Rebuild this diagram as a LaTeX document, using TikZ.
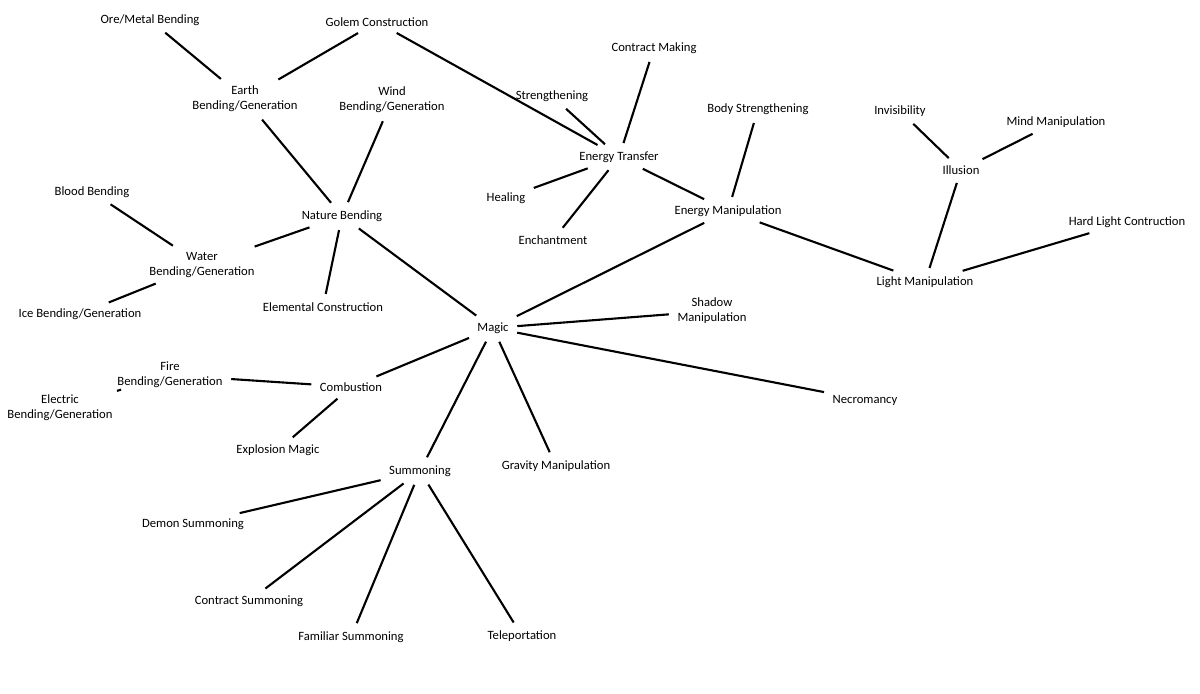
\documentclass[tikz,border=0pt]{standalone}
\usepackage{fontspec}
\setmainfont{Carlito}
\usetikzlibrary{positioning}
\tikzset{
  topic/.style={align=center, inner sep=3pt, font=\fontsize{9}{10.5}\selectfont},
  link/.style={line width=1.5pt, shorten >=3pt, shorten <=3pt}
}
\begin{document}
\begin{tikzpicture}[x=0.025cm, y=-0.025cm]
  \useasboundingbox (0,0) rectangle (1200,694);
  % nodes
  \node[topic] (ore) at (150,20) {Ore/Metal Bending};
  \node[topic] (golem) at (377,22) {Golem Construction};
  \node[topic] (cmake) at (654,48) {Contract Making};
  \node[topic] (earth) at (245,99) {Earth\\Bending/Generation};
  \node[topic] (wind) at (392,100) {Wind\\Bending/Generation};
  \node[topic] (stren) at (552,96) {Strengthening};
  \node[topic] (body) at (758,109) {Body Strengthening};
  \node[topic] (invis) at (900,111) {Invisibility};
  \node[topic] (mind) at (1056,122) {Mind Manipulation};
  \node[topic] (etrans) at (619,157) {Energy Transfer};
  \node[topic] (illus) at (961,170) {Illusion};
  \node[topic] (blood) at (92,192) {Blood Bending};
  \node[topic] (heal) at (506,198) {Healing};
  \node[topic] (nature) at (342,216) {Nature Bending};
  \node[topic] (emanip) at (728,211) {Energy Manipulation};
  \node[topic] (hard) at (1127,222) {Hard Light Contruction};
  \node[topic] (ench) at (553,240) {Enchantment};
  \node[topic] (water) at (202,265) {Water\\Bending/Generation};
  \node[topic] (light) at (925,282) {Light Manipulation};
  \node[topic] (ice) at (80,314) {Ice Bending/Generation};
  \node[topic] (elem) at (323,307) {Elemental Construction};
  \node[topic] (shadow) at (712,311) {Shadow\\Manipulation};
  \node[topic] (magic) at (493,328) {Magic};
  \node[topic] (fire) at (170,375) {Fire\\Bending/Generation};
  \node[topic] (comb) at (351,387) {Combustion};
  \node[topic] (elec) at (60,408) {Electric\\Bending/Generation};
  \node[topic] (necro) at (865,400) {Necromancy};
  \node[topic] (expl) at (278,450) {Explosion Magic};
  \node[topic] (summ) at (420,471) {Summoning};
  \node[topic] (grav) at (556,466) {Gravity Manipulation};
  \node[topic] (demon) at (193,524) {Demon Summoning};
  \node[topic] (csumm) at (249,601) {Contract Summoning};
  \node[topic] (fam) at (351,637) {Familiar Summoning};
  \node[topic] (tele) at (522,636) {Teleportation};
  % connectors
  \foreach \a/\b in {ore/earth, golem/earth, golem/etrans, earth/nature,
      wind/nature, stren/etrans, cmake/etrans, etrans/heal, etrans/ench,
      etrans/emanip, body/emanip, emanip/magic, emanip/light, invis/illus,
      mind/illus, illus/light, hard/light, nature/water, blood/water,
      water/ice, nature/elem, nature/magic, magic/shadow, magic/necro,
      magic/comb, magic/summ, magic/grav, fire/comb, elec/fire, comb/expl,
      summ/demon, summ/csumm, summ/fam, summ/tele}
    \draw[link] (\a) -- (\b);
\end{tikzpicture}
\end{document}
